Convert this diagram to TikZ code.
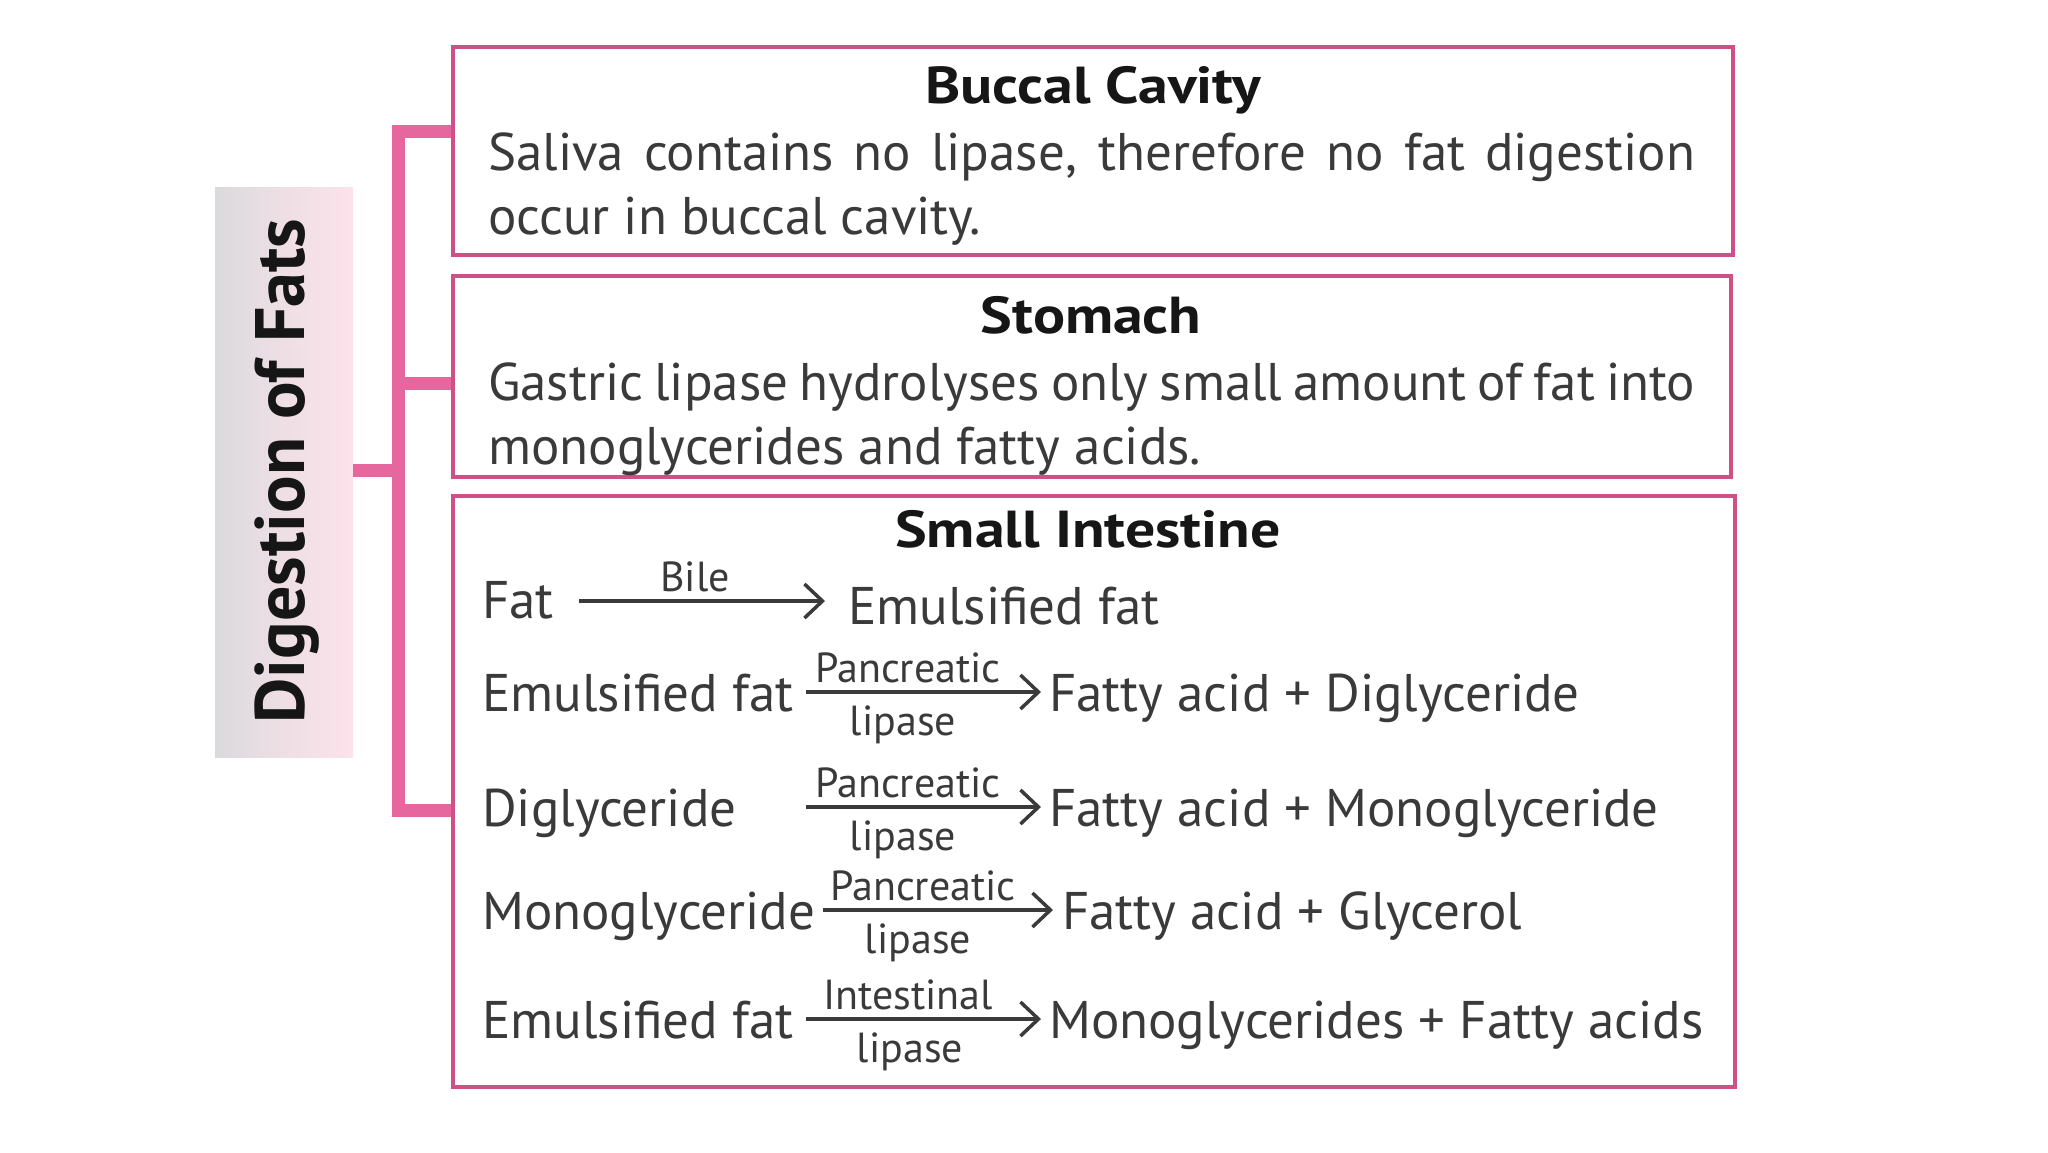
\documentclass[tikz,border=0pt]{standalone}
\usepackage{fontspec}
\setmainfont{PT Sans}
\usetikzlibrary{arrows.meta,shadings}
\definecolor{brk}{RGB}{230,102,158}
\definecolor{bord}{RGB}{205,80,135}
\definecolor{txt}{RGB}{58,58,58}
\definecolor{ttl}{RGB}{22,22,22}
\definecolor{sidepink}{RGB}{252,226,235}
\definecolor{sidegray}{RGB}{218,218,220}
\tikzset{
  panel/.style={draw=bord, line width=4pt, fill=white},
  brack/.style={draw=brk, line width=13pt},
  body/.style={inner sep=0pt, text=txt, font=\fontsize{53}{58}\selectfont, anchor=base west},
  ttlt/.style={inner sep=0pt, text=ttl, font=\bfseries\fontsize{52}{58}\selectfont, anchor=base},
  lbl/.style={inner sep=0pt, text=txt, font=\fontsize{42}{46}\selectfont, anchor=base},
  rxn/.style={draw=txt, line width=3.5pt, -{Straight Barb[length=18pt,width=34pt,line width=3.5pt]}},
}
\begin{document}
\begin{tikzpicture}[x=1pt,y=-1pt]
\useasboundingbox[fill=white] (0,0) rectangle (2048,1152);
% side label
\shade[left color=sidegray, right color=sidepink, middle color=sidegray!40!sidepink] (215,187) rectangle (353,757);
\node[rotate=90, inner sep=0pt, text=ttl, font=\bfseries\fontsize{70}{74}\selectfont] (side) at (287,471) {Digestion of Fats};
% bracket
\coordinate (s0) at (353,470);
\coordinate (sv) at (398,470);
\coordinate (b1) at (398,131);
\coordinate (b2) at (398,383);
\coordinate (b3) at (398,810);
\draw[brack] (s0) -- (sv);
\draw[brack, line join=miter] (455,131) -- (b1) -- (b3) -- (455,810);
\draw[brack] (b2) -- (455,383);
% panels
\draw[panel] (453,47) rectangle (1733,255);
\draw[panel] (453,276) rectangle (1731,477);
\draw[panel] (453,496) rectangle (1735,1087);
% box 1
\node[ttlt] (t1) at (1093,103) {\scalebox{1.15}[1]{Buccal Cavity}};
\node[body] (l11) at (488,170) {\makebox[1207pt][s]{Saliva contains no lipase, therefore no fat digestion}};
\node[body] (l12) at (488,234) {occur in buccal cavity.};
% box 2
\node[ttlt] (t2) at (1091,333) {\scalebox{1.15}[1]{Stomach}};
\node[body] (l21) at (488,400) {\makebox[1207pt][s]{Gastric lipase hydrolyses only small amount of fat into}};
\node[body] (l22) at (488,464) {monoglycerides and fatty acids.};
% box 3
\node[ttlt] (t3) at (1088,547) {\scalebox{1.15}[1]{Small Intestine}};
% row 1
\node[body] (r1a) at (482,618) {Fat};
\node[body] (r1b) at (848,624) {Emulsified fat};
\coordinate (a1s) at (579,601);
\coordinate (a1e) at (825,601);
\draw[rxn] (a1s) -- (a1e);
\node[lbl] (k1) at (695,591) {Bile};
% row 2
\node[body] (r2a) at (482,711) {Emulsified fat};
\node[body] (r2b) at (1049,711) {Fatty acid + Diglyceride};
\coordinate (a2s) at (806,692);
\coordinate (a2e) at (1041,692);
\draw[rxn] (a2s) -- (a2e);
\node[lbl] (k2) at (908,682) {Pancreatic};
\node[lbl] (k2b) at (903,735) {lipase};
% row 3
\node[body] (r3a) at (482,826) {Diglyceride};
\node[body] (r3b) at (1049,826) {Fatty acid + Monoglyceride};
\coordinate (a3s) at (806,807);
\coordinate (a3e) at (1041,807);
\draw[rxn] (a3s) -- (a3e);
\node[lbl] (k3) at (908,797) {Pancreatic};
\node[lbl] (k3b) at (903,850) {lipase};
% row 4
\node[body] (r4a) at (482,929) {Monoglyceride};
\node[body] (r4b) at (1062,929) {Fatty acid + Glycerol};
\coordinate (a4s) at (823,910);
\coordinate (a4e) at (1053,910);
\draw[rxn] (a4s) -- (a4e);
\node[lbl] (k4) at (923,900) {Pancreatic};
\node[lbl] (k4b) at (918,953) {lipase};
% row 5
\node[body] (r5a) at (482,1038) {Emulsified fat};
\node[body] (r5b) at (1049,1038) {Monoglycerides + Fatty acids};
\coordinate (a5s) at (806,1019);
\coordinate (a5e) at (1041,1019);
\draw[rxn] (a5s) -- (a5e);
\node[lbl] (k5) at (908,1009) {Intestinal};
\node[lbl] (k5b) at (910,1062) {lipase};
\end{tikzpicture}
\end{document}
